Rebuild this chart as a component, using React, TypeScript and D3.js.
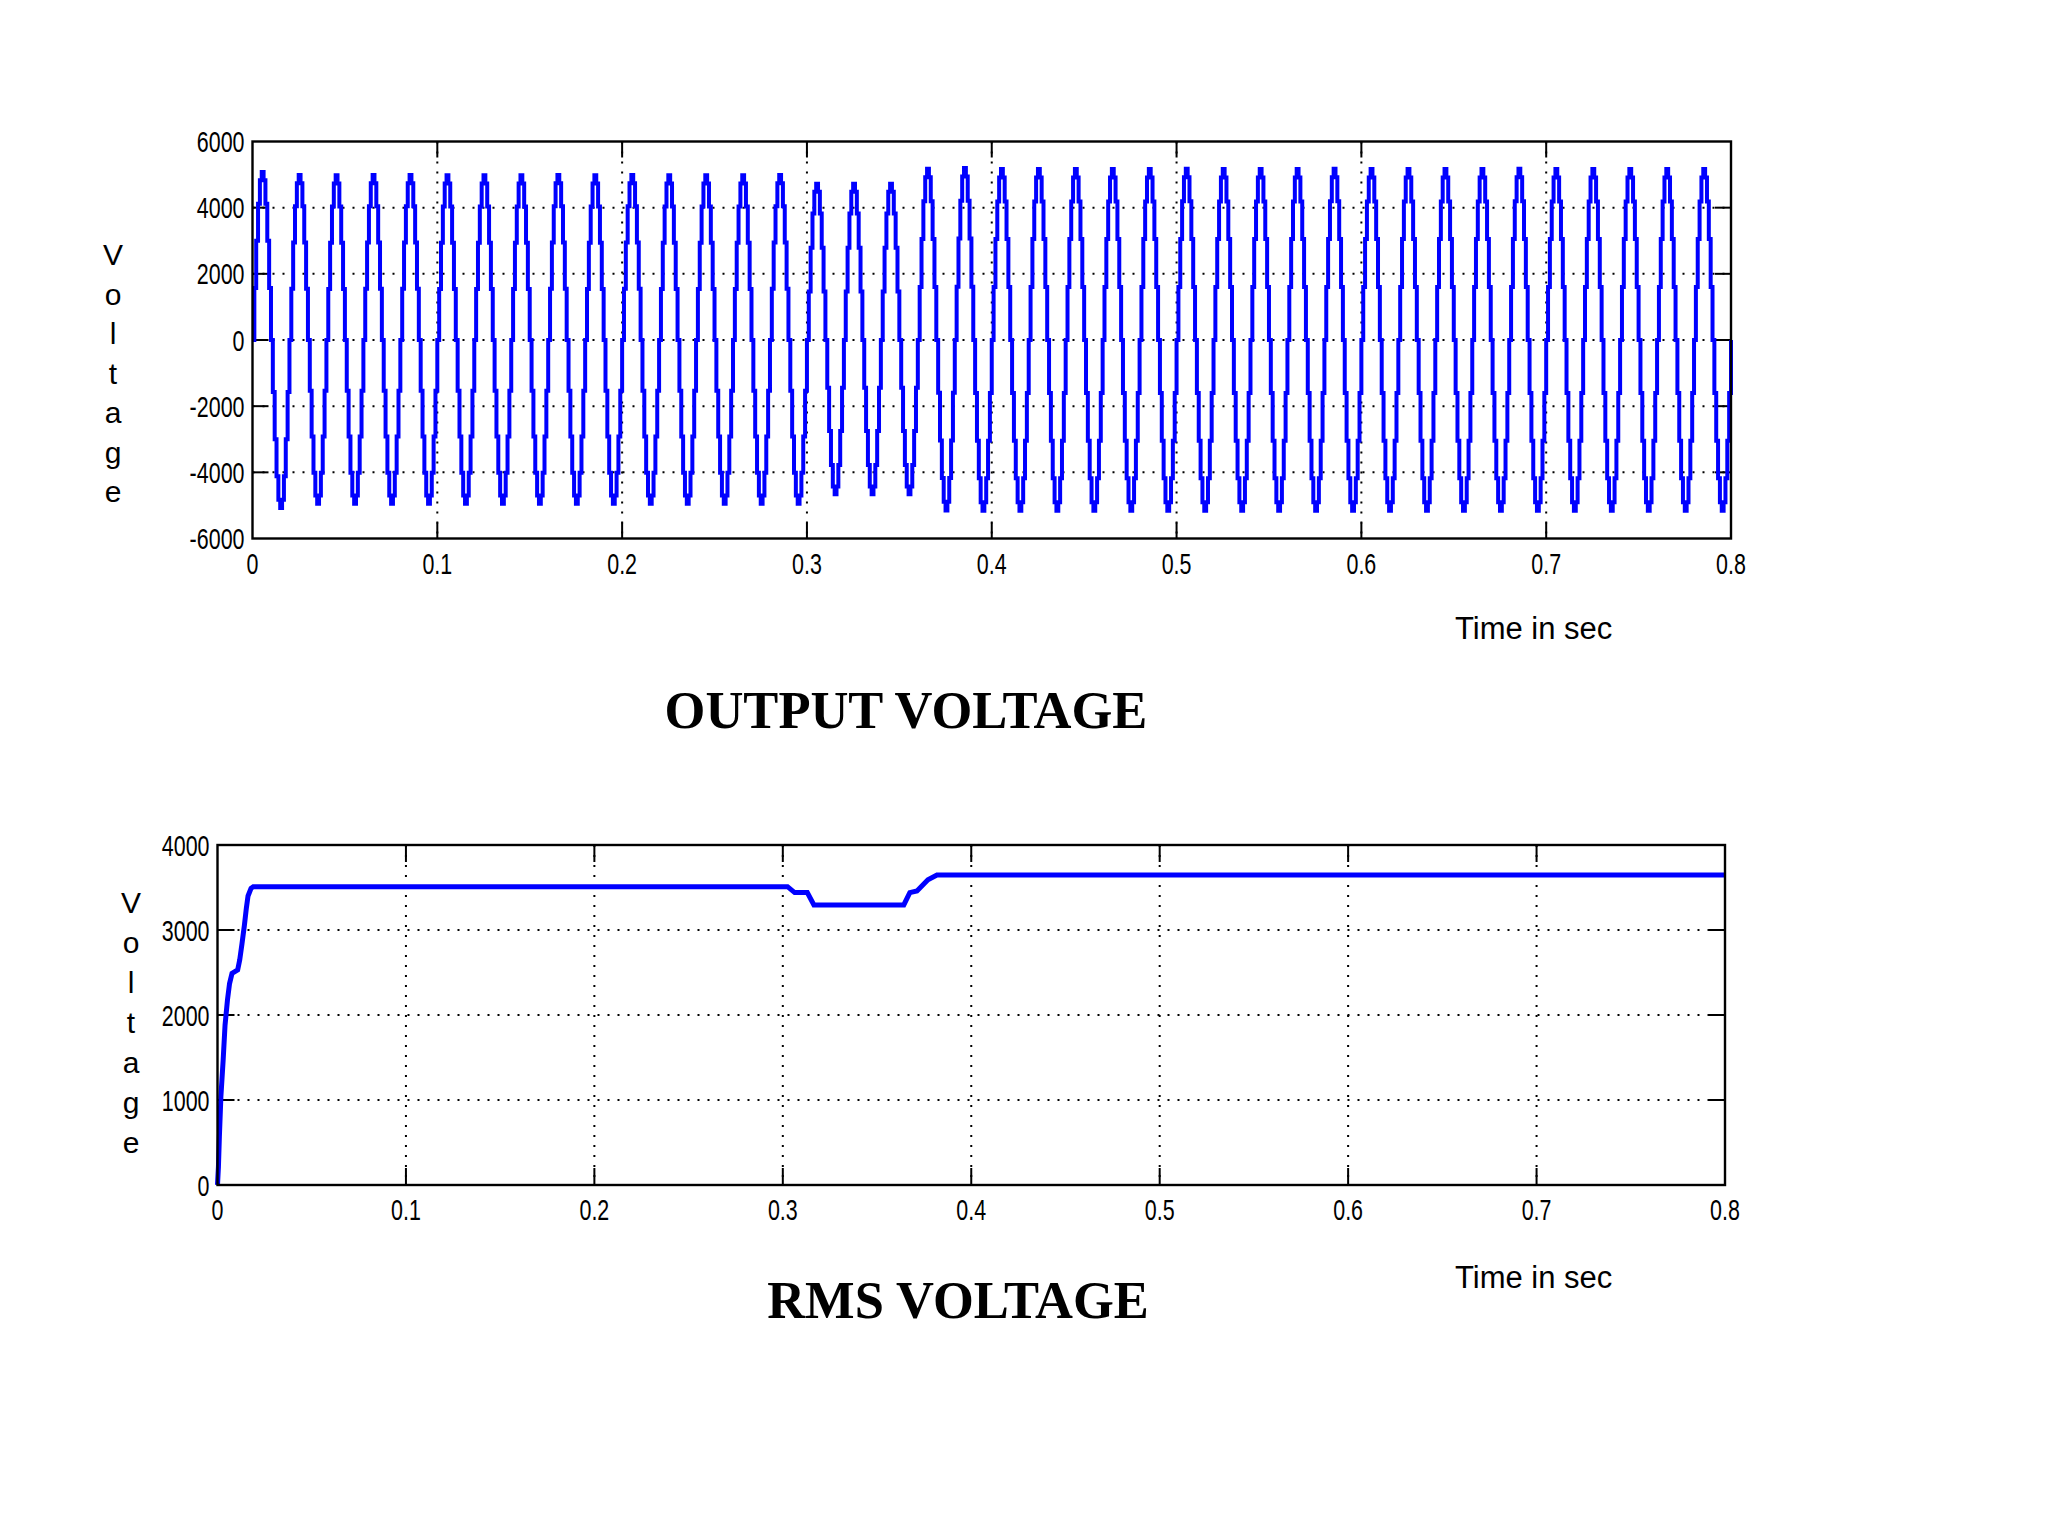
import * as d3 from "d3";

// one 20 ms cycle of the stepped inverter output, sampled every 1 ms (normalised)
const CYCLE_PROFILE = [
  0, 0.31, 0.59, 0.81, 0.95, 1, 0.95, 0.81, 0.59, 0.31,
  0, -0.31, -0.59, -0.81, -0.95, -1, -0.95, -0.81, -0.59, -0.31,
];
const SAMPLE_STEP = 0.001;

// positive peak of each of the 40 cycles (V)
const CYCLE_PEAKS = [
  5080, 4990, 4980, 4990, 4990, 4980, 4980, 4980, 4990, 4980,
  4990, 4980, 4980, 4980, 4990, 4720, 4720, 4720, 5180, 5200,
  5170, 5170, 5170, 5170, 5170, 5180, 5170, 5170, 5170, 5180,
  5170, 5170, 5170, 5170, 5180, 5170, 5170, 5170, 5170, 5170,
];
// negative peak of each cycle (V)
const CYCLE_TROUGHS = [
  -5080, -4950, -4950, -4950, -4950, -4950, -4950, -4950, -4950, -4950,
  -4950, -4950, -4950, -4950, -4950, -4660, -4660, -4660, -5150, -5160,
  -5160, -5160, -5160, -5160, -5160, -5160, -5160, -5160, -5160, -5160,
  -5160, -5160, -5160, -5160, -5160, -5160, -5160, -5160, -5160, -5160,
];

// RMS voltage trace
const RMS_TIME = [
  0, 0.0005, 0.001, 0.0018, 0.003, 0.004, 0.0053, 0.0064, 0.0077, 0.0107,
  0.0118, 0.013, 0.0143, 0.0153, 0.0162, 0.0178, 0.019, 0.3025, 0.3063, 0.313,
  0.3165, 0.3642, 0.3674, 0.3712, 0.377, 0.3818, 0.8,
];
const RMS_VALUE = [
  0, 216, 570, 1040, 1470, 1880, 2180, 2370, 2490, 2530,
  2650, 2840, 3060, 3255, 3400, 3490, 3510, 3510, 3440, 3440,
  3295, 3295, 3440, 3460, 3590, 3647, 3647,
];

const X_TICKS = [0, 0.1, 0.2, 0.3, 0.4, 0.5, 0.6, 0.7, 0.8];
const X_TICK_LABELS = ["0", "0.1", "0.2", "0.3", "0.4", "0.5", "0.6", "0.7", "0.8"];
const TOP_Y_TICKS = [-6000, -4000, -2000, 0, 2000, 4000, 6000];
const BOTTOM_Y_TICKS = [0, 1000, 2000, 3000, 4000];

const Y_LABEL = ["V", "o", "l", "t", "a", "g", "e"];

type Pt = { t: number; v: number };

const outputPoints: Pt[] = [];
CYCLE_PEAKS.forEach((peak, c) => {
  CYCLE_PROFILE.forEach((p, k) => {
    const t = (c * CYCLE_PROFILE.length + k) * SAMPLE_STEP;
    outputPoints.push({ t, v: p >= 0 ? p * peak : -p * CYCLE_TROUGHS[c] });
  });
});
outputPoints.push({ t: 0.8, v: 0 });

const rmsPoints: Pt[] = RMS_TIME.map((t, i) => ({ t, v: RMS_VALUE[i] }));

const TICK_FONT = "'Liberation Sans', Arial, sans-serif";
const TITLE_FONT = "'Liberation Serif', 'Times New Roman', serif";

function Panel({
  left, right, top, bottom, yTicks, points, step, lineWidth, tickLen,
}: {
  left: number; right: number; top: number; bottom: number;
  yTicks: number[]; points: Pt[]; step: boolean; lineWidth: number; tickLen: number;
}) {
  const x = d3.scaleLinear().domain([0, 0.8]).range([left, right]);
  const y = d3.scaleLinear().domain(d3.extent(yTicks) as [number, number]).range([bottom, top]);
  const line = d3
    .line<Pt>()
    .curve(step ? d3.curveStepAfter : d3.curveLinear)
    .x((d) => x(d.t))
    .y((d) => y(d.v));

  const innerX = X_TICKS.slice(1, -1);
  const innerY = yTicks.slice(1, -1);

  return (
    <g>
      {/* dotted grid */}
      {innerX.map((t) => (
        <line key={"gx" + t} x1={x(t)} x2={x(t)} y1={top} y2={bottom}
          stroke="#000" strokeWidth={2} strokeDasharray="2 8" />
      ))}
      {innerY.map((v) => (
        <line key={"gy" + v} x1={left} x2={right} y1={y(v)} y2={y(v)}
          stroke="#000" strokeWidth={2} strokeDasharray="2 8" />
      ))}
      {/* inward ticks on all four sides */}
      {innerX.map((t) => (
        <g key={"tx" + t}>
          <line x1={x(t)} x2={x(t)} y1={bottom} y2={bottom - tickLen} stroke="#000" strokeWidth={2} />
          <line x1={x(t)} x2={x(t)} y1={top} y2={top + tickLen} stroke="#000" strokeWidth={2} />
        </g>
      ))}
      {innerY.map((v) => (
        <g key={"ty" + v}>
          <line x1={left} x2={left + tickLen} y1={y(v)} y2={y(v)} stroke="#000" strokeWidth={2} />
          <line x1={right} x2={right - tickLen} y1={y(v)} y2={y(v)} stroke="#000" strokeWidth={2} />
        </g>
      ))}
      <path d={line(points) ?? ""} fill="none" stroke="#0000ff" strokeWidth={lineWidth} />
      <rect x={left} y={top} width={right - left} height={bottom - top}
        fill="none" stroke="#000" strokeWidth={2.4} />
      {/* tick labels */}
      {X_TICKS.map((t, i) => (
        <text key={"lx" + t} transform={`translate(${x(t)},${bottom + 35}) scale(0.74,1)`}
          textAnchor="middle" fontFamily={TICK_FONT} fontSize={29}>
          {X_TICK_LABELS[i]}
        </text>
      ))}
      {yTicks.map((v) => (
        <text key={"ly" + v} transform={`translate(${left - 8},${y(v) + 10.5}) scale(0.74,1)`}
          textAnchor="end" fontFamily={TICK_FONT} fontSize={29}>
          {String(v)}
        </text>
      ))}
    </g>
  );
}

function VerticalLabel({ cx, y0, gap }: { cx: number; y0: number; gap: number }) {
  return (
    <g>
      {Y_LABEL.map((ch, i) => (
        <text key={i} x={cx} y={y0 + i * gap} textAnchor="middle"
          fontFamily={TICK_FONT} fontSize={30}>
          {ch}
        </text>
      ))}
    </g>
  );
}

export default function App() {
  return (
    <div style={{ position: "absolute", left: 0, top: 0 }}>
      <svg width={2048} height={1536} style={{ display: "block", background: "#fff" }}>
        <rect width={2048} height={1536} fill="#fff" />
        <Panel left={252.5} right={1731} top={141.5} bottom={538.5}
          yTicks={TOP_Y_TICKS} points={outputPoints} step={true} lineWidth={4} tickLen={16} />
        <Panel left={217.5} right={1725} top={845} bottom={1185}
          yTicks={BOTTOM_Y_TICKS} points={rmsPoints} step={false} lineWidth={5} tickLen={17} />

        <VerticalLabel cx={113} y0={265} gap={39.5} />
        <VerticalLabel cx={131} y0={913} gap={40} />

        <text x={1455} y={639} fontFamily={TICK_FONT} fontSize={31}>Time in sec</text>
        <text x={1455} y={1288} fontFamily={TICK_FONT} fontSize={31}>Time in sec</text>

        <text x={906} y={728} textAnchor="middle" fontFamily={TITLE_FONT}
          fontWeight="bold" fontSize={52.5}>OUTPUT VOLTAGE</text>
        <text x={958} y={1318} textAnchor="middle" fontFamily={TITLE_FONT}
          fontWeight="bold" fontSize={52.5}>RMS VOLTAGE</text>
      </svg>
    </div>
  );
}
